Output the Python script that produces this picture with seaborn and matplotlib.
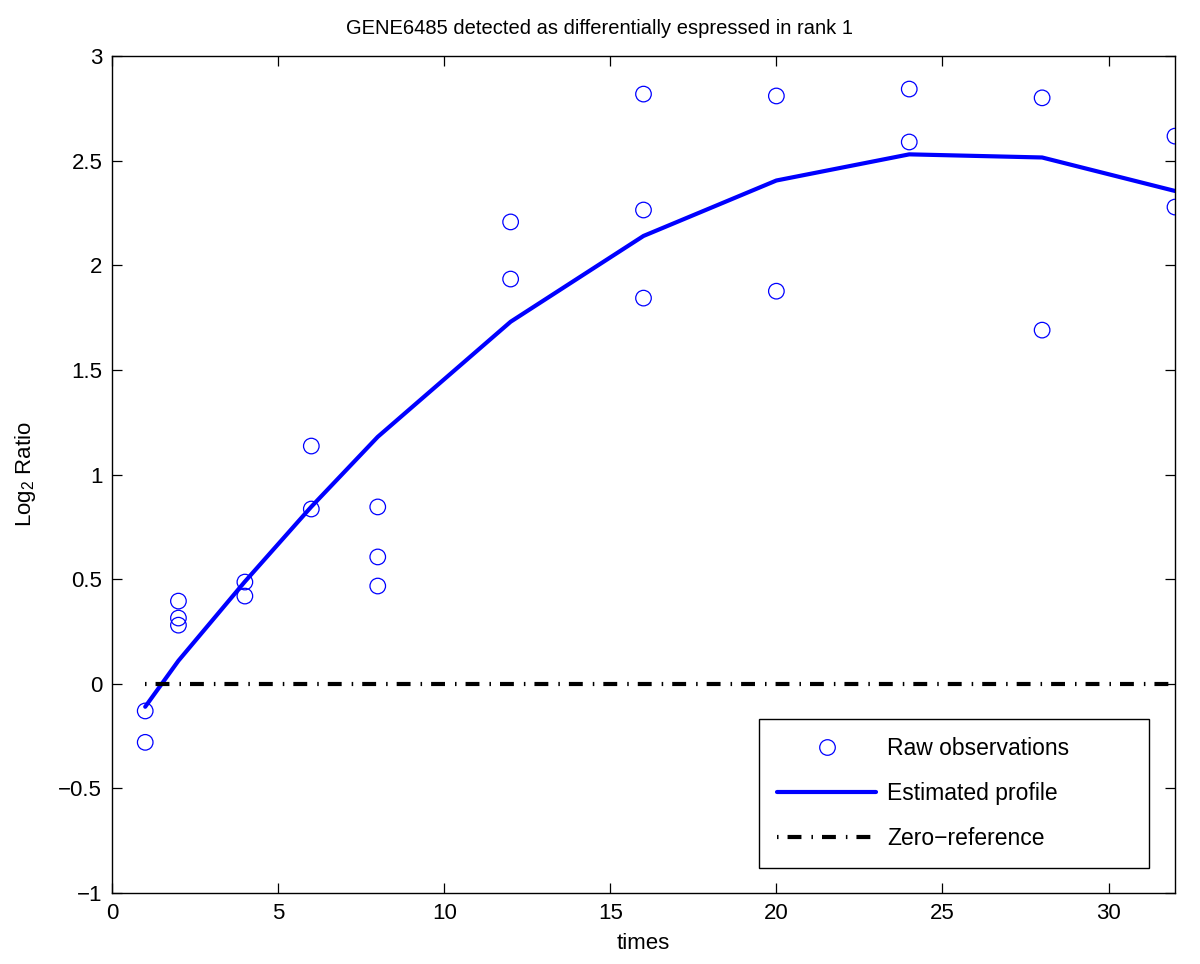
import numpy as np
import pandas as pd
import matplotlib
matplotlib.use("Agg")
import matplotlib.pyplot as plt
import seaborn as sns
from matplotlib.lines import Line2D

# ---- data ----
obs_times = [1, 1, 2, 2, 2, 4, 4, 6, 6, 8, 8, 8, 12, 12, 16, 16, 16,
             20, 20, 24, 24, 28, 28, 32, 32]
obs_values = [-0.13, -0.28, 0.395, 0.314, 0.28, 0.486, 0.419, 1.136, 0.835,
              0.845, 0.606, 0.467, 2.207, 1.934, 2.818, 2.264, 1.843,
              2.809, 1.876, 2.842, 2.589, 2.80, 1.69, 2.617, 2.278]
profile_times = [1, 2, 4, 6, 8, 12, 16, 20, 24, 28, 32]
profile_values = [-0.11, 0.11, 0.488, 0.846, 1.18, 1.73, 2.14, 2.405, 2.53, 2.515, 2.355]
zero_times = [1, 32]
zero_values = [0, 0]
x_ticks = [0, 5, 10, 15, 20, 25, 30]
y_ticks = [-1, -0.5, 0, 0.5, 1, 1.5, 2, 2.5, 3]
title = "GENE6485 detected as differentially espressed in rank 1"
legend_labels = ["Raw observations", "Estimated profile", "Zero\u2212reference"]

sns.set_style("ticks")
plt.rcParams['font.family'] = ['Liberation Sans', 'DejaVu Sans']
plt.rcParams['mathtext.fontset'] = 'custom'
plt.rcParams['mathtext.rm'] = 'Liberation Sans'
plt.rcParams['mathtext.it'] = 'Liberation Sans:italic'
plt.rcParams['lines.scale_dashes'] = False
for k in ['text.color', 'axes.labelcolor', 'xtick.color', 'ytick.color', 'axes.edgecolor']:
    plt.rcParams[k] = 'black'

fig = plt.figure(figsize=(12, 9.64), dpi=100)
ax = fig.add_axes([112/1200, 1 - 893/964, (1175-112)/1200, (893-56)/964])

obs_df = pd.DataFrame({"t": obs_times, "v": obs_values})
prof_df = pd.DataFrame({"t": profile_times, "v": profile_values})
zero_df = pd.DataFrame({"t": zero_times, "v": zero_values})

blue = "#0000FF"
dash_pattern = (0, (1.1, 6.5, 10.0, 7.2))
sns.scatterplot(data=obs_df, x="t", y="v", ax=ax, marker="o", s=11.2**2,
                facecolors="none", edgecolor=blue, linewidth=0.9, zorder=3)
sns.lineplot(data=prof_df, x="t", y="v", ax=ax, color=blue, linewidth=3.0,
             estimator=None, sort=False, zorder=2)
sns.lineplot(data=zero_df, x="t", y="v", ax=ax, color="black", linewidth=3.0,
             estimator=None, sort=False, zorder=2)
ax.lines[-1].set_linestyle(dash_pattern)
ax.lines[-1].set_dash_capstyle("butt")

ax.set_xlim(0, 32)
ax.set_ylim(-1, 3)
ax.set_xticks(x_ticks)
ax.set_yticks(y_ticks)
ax.set_yticklabels([("%g" % v).replace("-", "\u2212") for v in y_ticks])
ax.tick_params(direction="in", length=7, width=0.9, top=True, right=True,
               labelsize=16, pad=7, colors="black")
for s in ax.spines.values():
    s.set_visible(True)
    s.set_linewidth(1.0)
    s.set_color("black")

ax.set_xlabel("times", fontsize=16, labelpad=7)
ax.set_ylabel("Log$_2$ Ratio", fontsize=16, labelpad=15)
fig.text(0.5, 1 - 29/964, title, fontsize=14.5, ha="center", va="center")

handles = [
    Line2D([], [], linestyle="none", marker="o", markersize=11.2,
           markerfacecolor="none", markeredgecolor=blue, markeredgewidth=0.9),
    Line2D([], [], color=blue, linewidth=3.0),
    Line2D([], [], color="black", linewidth=3.0, linestyle=(0, (1.1, 6.5, 10.0, 7.2)),
           dash_capstyle="butt"),
]
leg = ax.legend(handles, legend_labels, loc="lower left", mode="expand",
                bbox_to_anchor=(759/1200, 1 - 868/964, 390/1200, 149/964),
                bbox_transform=fig.transFigure, fontsize=16.5, frameon=True,
                fancybox=False, edgecolor="black", framealpha=1, handlelength=4.3,
                handletextpad=0.48, borderpad=0.8, labelspacing=0.95, borderaxespad=0)
leg.get_frame().set_linewidth(1.0)

fig.savefig("out.png", dpi=100)
